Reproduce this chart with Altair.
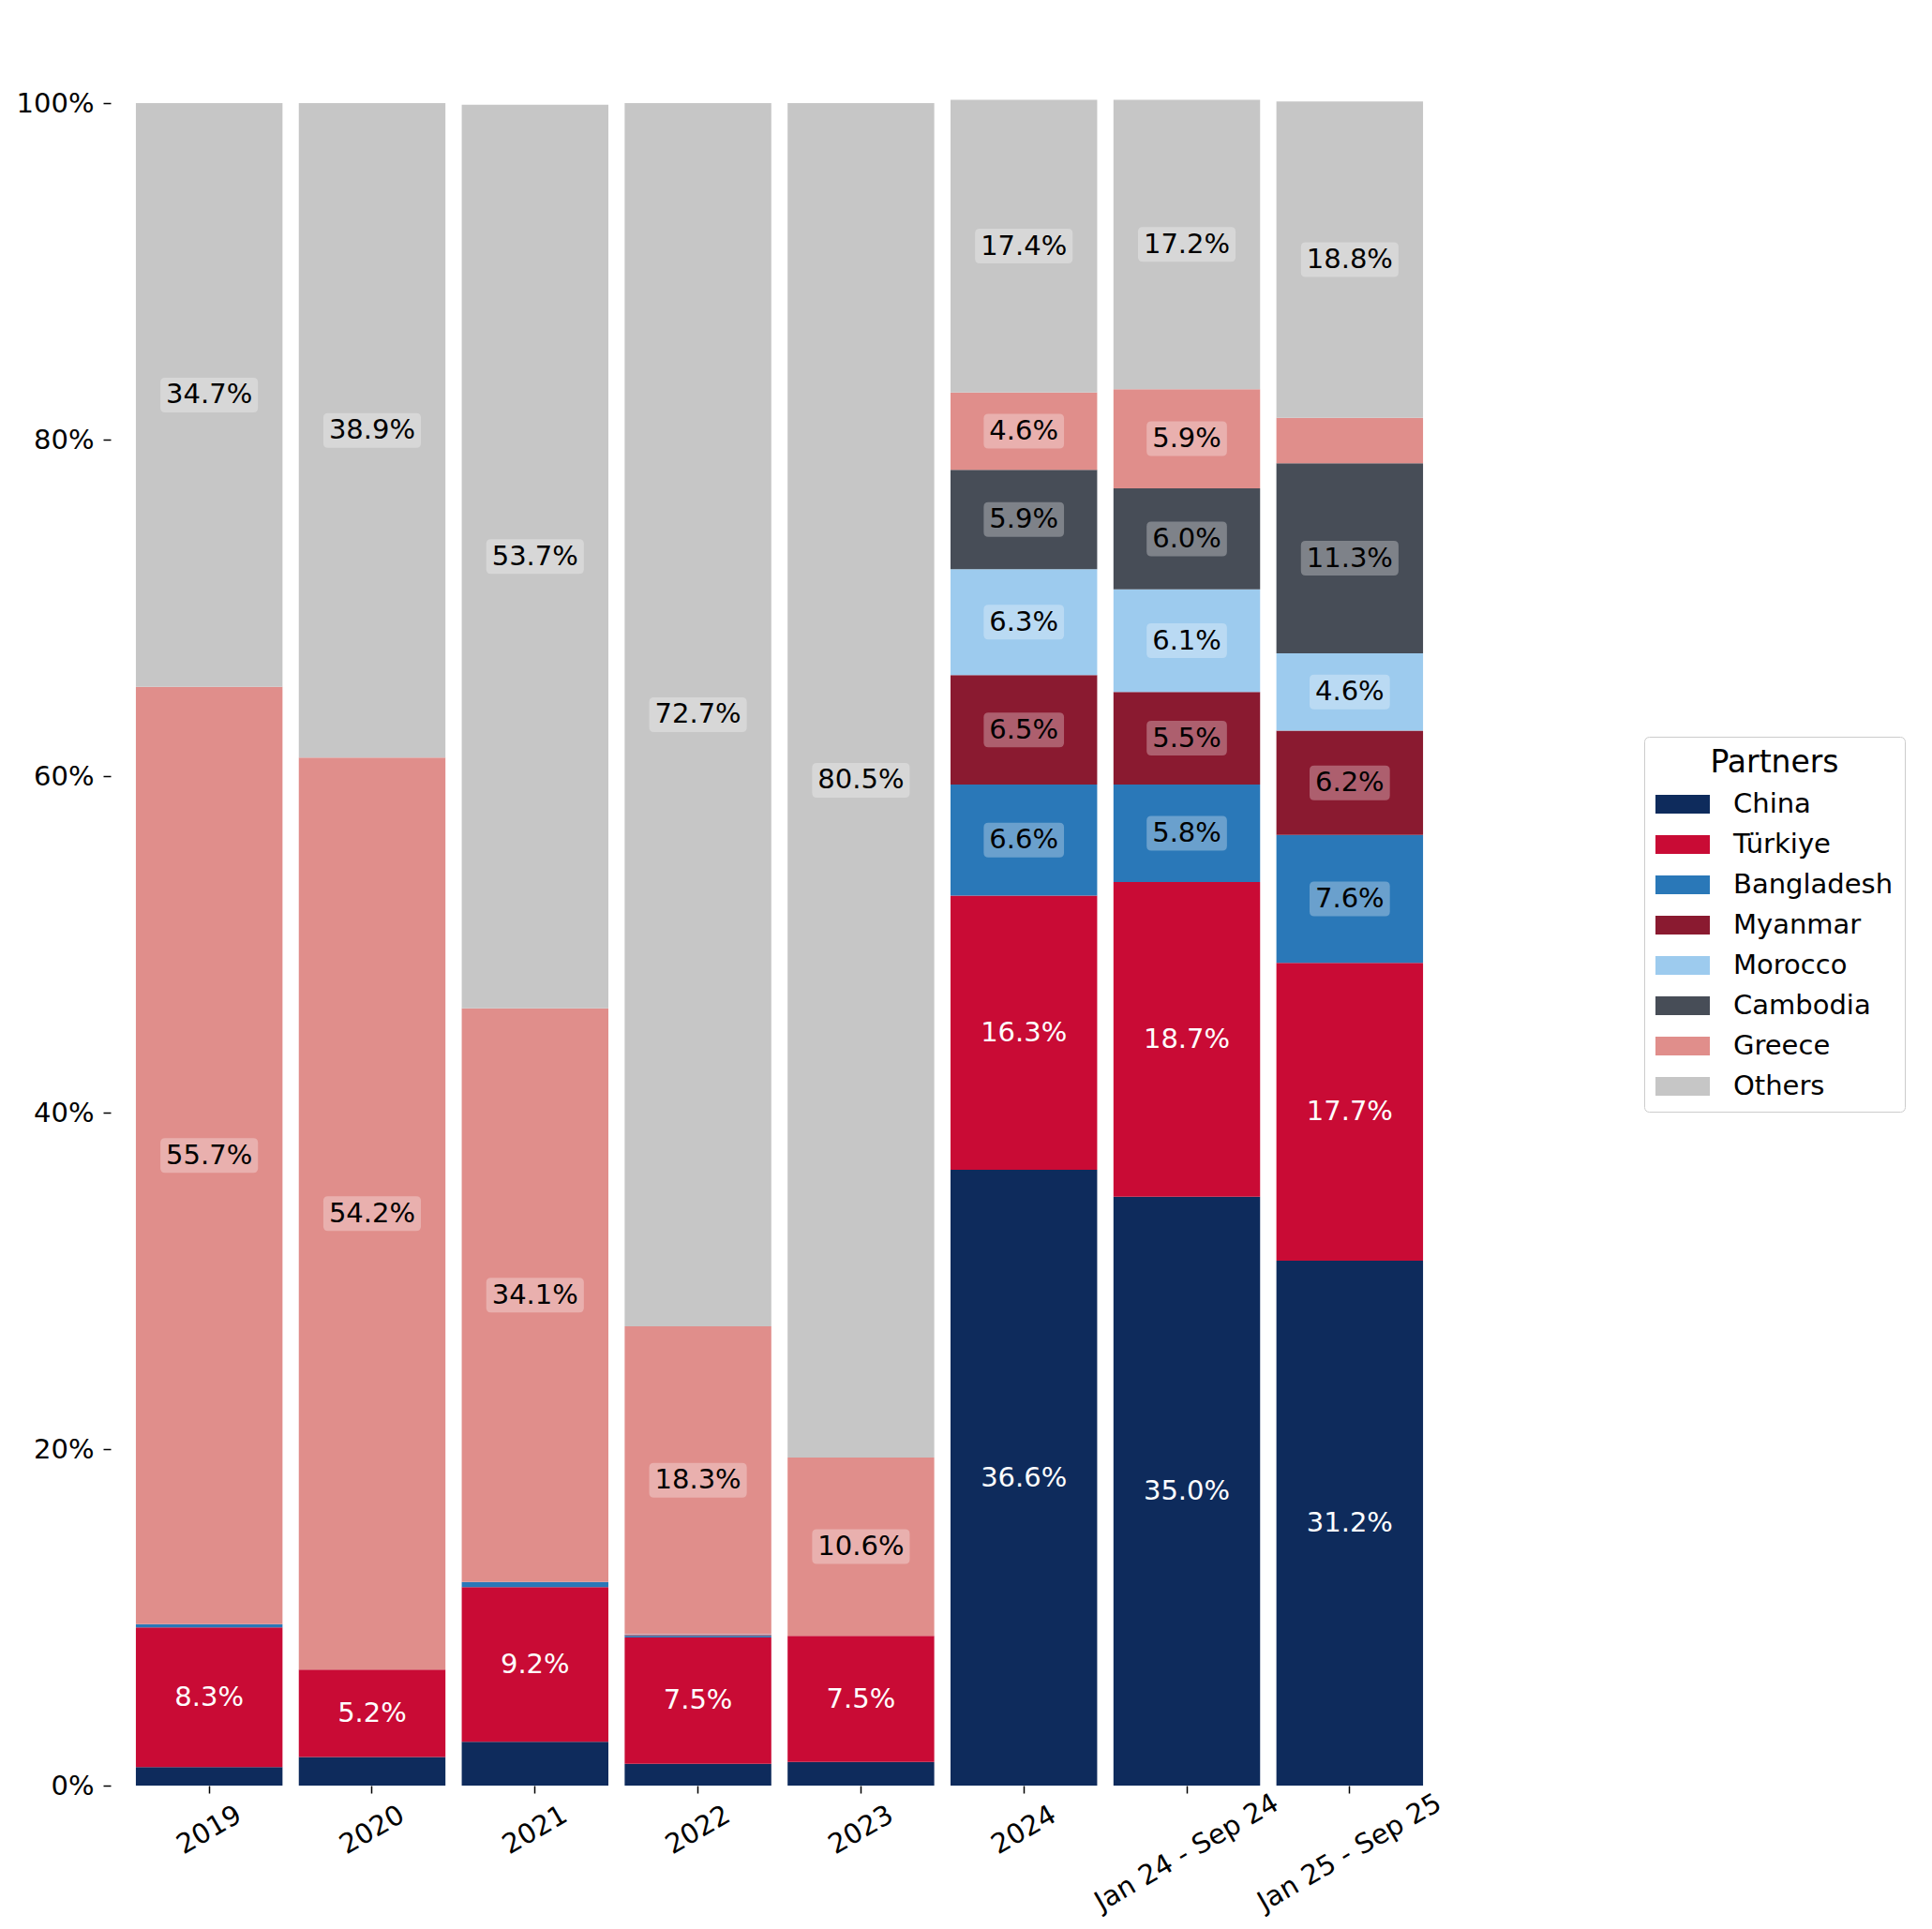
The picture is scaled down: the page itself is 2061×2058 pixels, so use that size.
import altair as alt
import pandas as pd

periods = ["2019", "2020", "2021", "2022", "2023", "2024", "Jan 24 - Sep 24", "Jan 25 - Sep 25"]
partners = ["China", "Türkiye", "Bangladesh", "Myanmar", "Morocco", "Cambodia", "Greece", "Others"]
colors = ["#0e2b5c", "#c90b35", "#2a78b8", "#8a1a30", "#9dcbee", "#474d57", "#e08e8b", "#c6c6c6"]

china = [1.1, 1.7, 2.6, 1.3, 1.4, 36.6, 35.0, 31.2]
turkiye = [8.3, 5.2, 9.2, 7.5, 7.5, 16.3, 18.7, 17.7]
bangladesh = [0.2, 0.0, 0.3, 0.1, 0.0, 6.6, 5.8, 7.6]
myanmar = [0.0, 0.0, 0.0, 0.05, 0.0, 6.5, 5.5, 6.2]
morocco = [0.0, 0.0, 0.0, 0.05, 0.0, 6.3, 6.1, 4.6]
cambodia = [0.0, 0.0, 0.0, 0.0, 0.0, 5.9, 6.0, 11.3]
greece = [55.7, 54.2, 34.1, 18.3, 10.6, 4.6, 5.9, 2.7]
others = [34.7, 38.9, 53.7, 72.7, 80.5, 17.4, 17.2, 18.8]

series = [china, turkiye, bangladesh, myanmar, morocco, cambodia, greece, others]

FONT = "DejaVu Sans"
LABEL_SIZE = 29
TICK_SIZE = 29
CHAR_EM = {".": 0.318, "%": 0.95}


def box_path(text):
    w = sum(CHAR_EM.get(c, 0.636) for c in text) * LABEL_SIZE + 12
    h = 37
    a, b, r = w / 2, h / 2, 5
    return (f"M{-a + r},{-b}H{a - r}Q{a},{-b} {a},{-b + r}V{b - r}Q{a},{b} {a - r},{b}"
            f"H{-a + r}Q{-a},{b} {-a},{b - r}V{-b + r}Q{-a},{-b} {-a + r},{-b}Z")


rows = []
for i, (p, vals) in enumerate(zip(partners, series)):
    for per, v in zip(periods, vals):
        lab = f"{v:.1f}%"
        dark = p in ("China", "Türkiye")
        rows.append({
            "period": per, "partner": p, "idx": i, "value": v,
            "label": lab, "tcol": "white" if dark else "black",
            "box": 0 if dark else 1, "path": box_path(lab),
        })
df = pd.DataFrame(rows)

base = alt.Chart(df).transform_stack(
    stack="value", groupby=["period"], as_=["y0", "y1"],
    sort=[alt.SortField("idx", order="ascending")]
).transform_calculate(mid="(datum.y0 + datum.y1) / 2")

x_axis = alt.Axis(
    title=None, domain=False, grid=False, ticks=True, tickSize=8, tickWidth=1.5,
    tickColor="black", labelAngle=-30, labelAlign="center", labelBaseline="middle",
    labelFont=FONT, labelFontSize=TICK_SIZE, labelColor="black", labelLimit=0,
    labelPadding={"condition": {"test": "length(datum.label) > 6", "value": 63}, "value": 39},
)
xenc = alt.X("period:N", sort=periods, axis=x_axis,
             scale=alt.Scale(paddingInner=0.1, paddingOuter=0.155))

y_axis = alt.Axis(
    title=None, domain=False, grid=False, ticks=True, tickSize=8, tickWidth=1.5,
    tickColor="black", values=[0, 20, 40, 60, 80, 100], labelExpr="datum.value + '%'",
    labelFont=FONT, labelFontSize=TICK_SIZE, labelColor="black", labelPadding=10,
)
yscale = alt.Scale(domain=[0, 100], nice=False)

legend = alt.Legend(
    title="Partners", orient="none", legendX=1636, legendY=676,
    titleFont=FONT, titleFontSize=33, titleFontWeight="normal", titleColor="black",
    titleAnchor="middle", titlePadding=7,
    labelFont=FONT, labelFontSize=29, labelColor="black", labelOffset=34, labelLimit=0,
    symbolType="M-1.45,-0.5H1.45V0.5H-1.45Z", symbolSize=1600, symbolStrokeWidth=0,
    symbolOffset=9, symbolOpacity=1,
    padding=12, strokeColor="#cccccc", cornerRadius=5, fillColor="white", rowPadding=8,
)

bars = base.mark_bar(strokeWidth=0).encode(
    x=xenc,
    y=alt.Y("y0:Q", scale=yscale, axis=y_axis),
    y2="y1:Q",
    color=alt.Color("partner:N", scale=alt.Scale(domain=partners, range=colors), legend=legend),
)

boxes = base.transform_filter("datum.value >= 3 && datum.box == 1").mark_point(
    filled=True, fill="white", opacity=0.3, strokeWidth=0, size=4
).encode(
    x=alt.X("period:N", sort=periods),
    y=alt.Y("mid:Q"),
    shape=alt.Shape("path:N", scale=None),
)

texts = base.transform_filter("datum.value >= 3").mark_text(
    font=FONT, fontSize=LABEL_SIZE, baseline="middle", align="center"
).encode(
    x=alt.X("period:N", sort=periods),
    y=alt.Y("mid:Q"),
    text="label:N",
    color=alt.Color("tcol:N", scale=None),
)

chart = alt.layer(bars, boxes, texts).properties(
    width=1427, height=1795,
    autosize=alt.AutoSizeParams(type="none"),
    padding={"left": 110, "top": 102, "right": 508, "bottom": 145},
    background="white",
).configure_view(stroke=None)

chart.save("out.html", embed_options={"renderer": "svg", "actions": False})
